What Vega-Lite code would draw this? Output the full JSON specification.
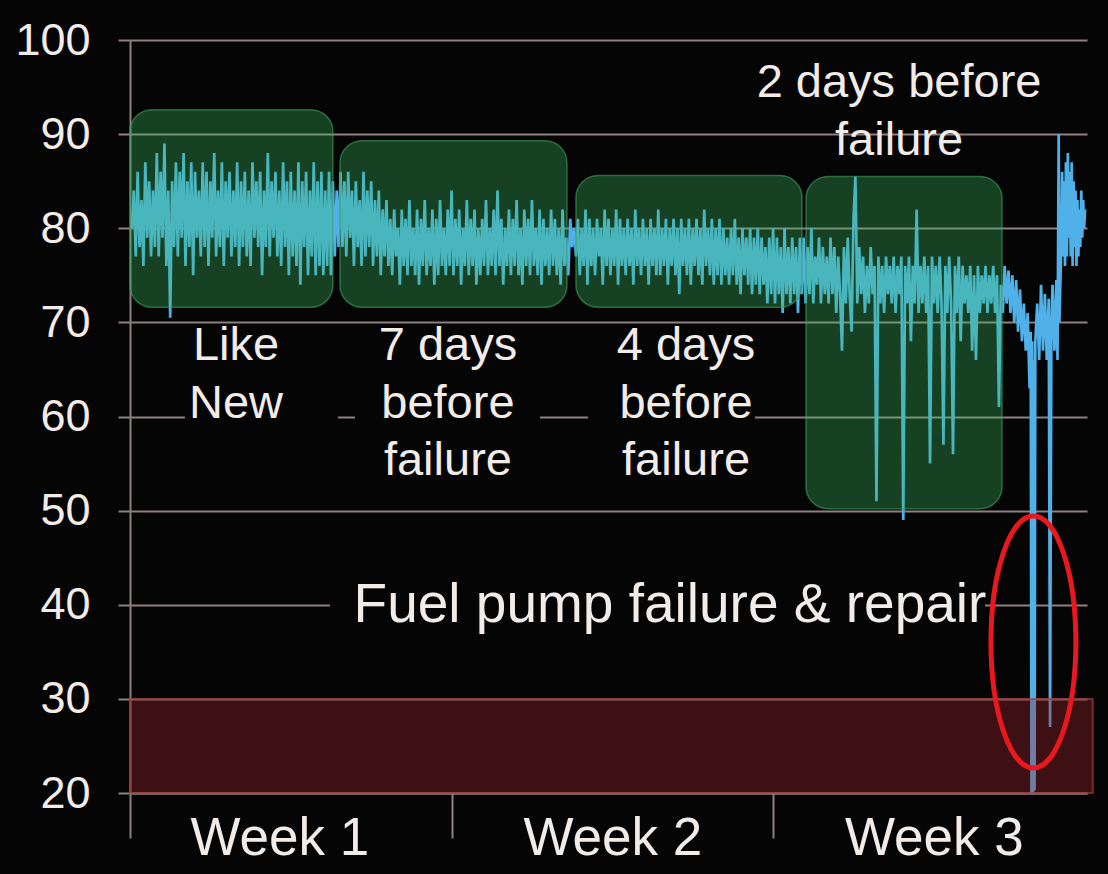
{
  "$schema": "https://vega.github.io/schema/vega-lite/v6.json",
  "width": 957,
  "height": 753,
  "autosize": {"type": "none"},
  "padding": {"left": 130, "top": 40, "right": 21, "bottom": 81},
  "background": "#050505",
  "config": {"view": {"stroke": null}, "font": "Liberation Sans"},
  "datasets": {
    "series": [
      {"h":1,"v":80},{"h":2,"v":84},{"h":3,"v":77},{"h":4,"v":86},{"h":5,"v":78},{"h":6,"v":83},{"h":7,"v":76},{"h":8,"v":87},{"h":9,"v":79},{"h":10,"v":85},
      {"h":11,"v":77},{"h":12,"v":84},{"h":13,"v":78},{"h":14,"v":88},{"h":15,"v":77},{"h":16,"v":86},{"h":17,"v":79},{"h":18,"v":89},{"h":19,"v":76},{"h":20,"v":84},
      {"h":21,"v":70.5},{"h":22,"v":85},{"h":23,"v":78},{"h":24,"v":87},{"h":25,"v":77},{"h":26,"v":86},{"h":27,"v":79},{"h":28,"v":88},{"h":29,"v":76},{"h":30,"v":85},
      {"h":31,"v":78},{"h":32,"v":87},{"h":33,"v":75},{"h":34,"v":86},{"h":35,"v":79},{"h":36,"v":84},{"h":37,"v":77},{"h":38,"v":87},{"h":39,"v":78},{"h":40,"v":86},
      {"h":41,"v":76},{"h":42,"v":85},{"h":43,"v":79},{"h":44,"v":88},{"h":45,"v":77},{"h":46,"v":84},{"h":47,"v":78},{"h":48,"v":87},{"h":49,"v":76},{"h":50,"v":85},
      {"h":51,"v":79},{"h":52,"v":86},{"h":53,"v":77},{"h":54,"v":84},{"h":55,"v":78},{"h":56,"v":87},{"h":57,"v":76},{"h":58,"v":85},{"h":59,"v":78},{"h":60,"v":86},
      {"h":61,"v":77},{"h":62,"v":84},{"h":63,"v":76},{"h":64,"v":87},{"h":65,"v":79},{"h":66,"v":85},{"h":67,"v":78},{"h":68,"v":86},{"h":69,"v":75},{"h":70,"v":84},
      {"h":71,"v":78},{"h":72,"v":88},{"h":73,"v":77},{"h":74,"v":85},{"h":75,"v":79},{"h":76,"v":86},{"h":77,"v":77},{"h":78,"v":84},{"h":79,"v":76},{"h":80,"v":87},
      {"h":81,"v":78},{"h":82,"v":85},{"h":83,"v":75},{"h":84,"v":86},{"h":85,"v":77},{"h":86,"v":84},{"h":87,"v":76},{"h":88,"v":87},{"h":89,"v":74},{"h":90,"v":85},
      {"h":91,"v":78},{"h":92,"v":86},{"h":93,"v":75},{"h":94,"v":84},{"h":95,"v":77},{"h":96,"v":87},{"h":97,"v":75},{"h":98,"v":85},{"h":99,"v":76},{"h":100,"v":86},
      {"h":101,"v":75},{"h":102,"v":84},{"h":103,"v":76},{"h":104,"v":86},{"h":105,"v":75},{"h":106,"v":85},{"h":107,"v":77},{"h":108,"v":84},{"h":109,"v":78},{"h":110,"v":86},
      {"h":111,"v":78},{"h":112,"v":85},{"h":113,"v":77},{"h":114,"v":86},{"h":115,"v":79},{"h":116,"v":84},{"h":117,"v":76},{"h":118,"v":85},{"h":119,"v":78},{"h":120,"v":83},
      {"h":121,"v":76},{"h":122,"v":86},{"h":123,"v":77},{"h":124,"v":84},{"h":125,"v":78},{"h":126,"v":85},{"h":127,"v":76},{"h":128,"v":83},{"h":129,"v":77},{"h":130,"v":84},
      {"h":131,"v":75},{"h":132,"v":82},{"h":133,"v":77},{"h":134,"v":83},{"h":135,"v":76},{"h":136,"v":81},{"h":137,"v":75},{"h":138,"v":82},{"h":139,"v":77},{"h":140,"v":80},
      {"h":141,"v":74},{"h":142,"v":82},{"h":143,"v":76},{"h":144,"v":81},{"h":145,"v":75},{"h":146,"v":83},{"h":147,"v":76},{"h":148,"v":80},{"h":149,"v":75},{"h":150,"v":82},
      {"h":151,"v":74},{"h":152,"v":81},{"h":153,"v":76},{"h":154,"v":83},{"h":155,"v":75},{"h":156,"v":80},{"h":157,"v":76},{"h":158,"v":82},{"h":159,"v":74},{"h":160,"v":81},
      {"h":161,"v":75},{"h":162,"v":83},{"h":163,"v":76},{"h":164,"v":80},{"h":165,"v":75},{"h":166,"v":82},{"h":167,"v":76},{"h":168,"v":84},{"h":169,"v":75},{"h":170,"v":81},
      {"h":171,"v":76},{"h":172,"v":82},{"h":173,"v":74},{"h":174,"v":80},{"h":175,"v":76},{"h":176,"v":83},{"h":177,"v":75},{"h":178,"v":81},{"h":179,"v":76},{"h":180,"v":82},
      {"h":181,"v":74},{"h":182,"v":80},{"h":183,"v":75},{"h":184,"v":81},{"h":185,"v":76},{"h":186,"v":83},{"h":187,"v":75},{"h":188,"v":80},{"h":189,"v":76},{"h":190,"v":82},
      {"h":191,"v":75},{"h":192,"v":84},{"h":193,"v":76},{"h":194,"v":81},{"h":195,"v":74},{"h":196,"v":80},{"h":197,"v":76},{"h":198,"v":82},{"h":199,"v":75},{"h":200,"v":81},
      {"h":201,"v":76},{"h":202,"v":83},{"h":203,"v":75},{"h":204,"v":80},{"h":205,"v":74},{"h":206,"v":82},{"h":207,"v":76},{"h":208,"v":81},{"h":209,"v":75},{"h":210,"v":83},
      {"h":211,"v":76},{"h":212,"v":80},{"h":213,"v":75},{"h":214,"v":82},{"h":215,"v":74},{"h":216,"v":81},{"h":217,"v":76},{"h":218,"v":80},{"h":219,"v":75},{"h":220,"v":82},
      {"h":221,"v":76},{"h":222,"v":81},{"h":223,"v":75},{"h":224,"v":80},{"h":225,"v":74},{"h":226,"v":82},{"h":227,"v":76},{"h":228,"v":79},{"h":229,"v":75},{"h":230,"v":81},
      {"h":231,"v":78},{"h":232,"v":80},{"h":233,"v":77},{"h":234,"v":81},{"h":235,"v":75},{"h":236,"v":80},{"h":237,"v":76},{"h":238,"v":82},{"h":239,"v":74},{"h":240,"v":81},
      {"h":241,"v":76},{"h":242,"v":80},{"h":243,"v":75},{"h":244,"v":81},{"h":245,"v":77},{"h":246,"v":80},{"h":247,"v":74},{"h":248,"v":82},{"h":249,"v":76},{"h":250,"v":81},
      {"h":251,"v":75},{"h":252,"v":80},{"h":253,"v":76},{"h":254,"v":82},{"h":255,"v":74},{"h":256,"v":81},{"h":257,"v":76},{"h":258,"v":80},{"h":259,"v":75},{"h":260,"v":81},
      {"h":261,"v":76},{"h":262,"v":80},{"h":263,"v":74},{"h":264,"v":82},{"h":265,"v":76},{"h":266,"v":80},{"h":267,"v":75},{"h":268,"v":81},{"h":269,"v":76},{"h":270,"v":80},
      {"h":271,"v":74},{"h":272,"v":81},{"h":273,"v":76},{"h":274,"v":80},{"h":275,"v":75},{"h":276,"v":82},{"h":277,"v":75},{"h":278,"v":80},{"h":279,"v":76},{"h":280,"v":81},
      {"h":281,"v":74},{"h":282,"v":80},{"h":283,"v":76},{"h":284,"v":81},{"h":285,"v":75},{"h":286,"v":80},{"h":287,"v":73},{"h":288,"v":81},{"h":289,"v":76},{"h":290,"v":80},
      {"h":291,"v":75},{"h":292,"v":81},{"h":293,"v":74},{"h":294,"v":80},{"h":295,"v":76},{"h":296,"v":81},{"h":297,"v":75},{"h":298,"v":80},{"h":299,"v":74},{"h":300,"v":82},
      {"h":301,"v":76},{"h":302,"v":80},{"h":303,"v":75},{"h":304,"v":81},{"h":305,"v":74},{"h":306,"v":80},{"h":307,"v":75},{"h":308,"v":81},{"h":309,"v":74},{"h":310,"v":80},
      {"h":311,"v":75},{"h":312,"v":79},{"h":313,"v":74},{"h":314,"v":80},{"h":315,"v":75},{"h":316,"v":81},{"h":317,"v":74},{"h":318,"v":79},{"h":319,"v":73},{"h":320,"v":80},
      {"h":321,"v":75},{"h":322,"v":79},{"h":323,"v":74},{"h":324,"v":80},{"h":325,"v":73},{"h":326,"v":79},{"h":327,"v":74},{"h":328,"v":80},{"h":329,"v":73},{"h":330,"v":79},
      {"h":331,"v":74},{"h":332,"v":78},{"h":333,"v":72},{"h":334,"v":79},{"h":335,"v":73},{"h":336,"v":80},{"h":337,"v":72},{"h":338,"v":79},{"h":339,"v":73},{"h":340,"v":78},
      {"h":341,"v":71},{"h":342,"v":80},{"h":343,"v":73},{"h":344,"v":78},{"h":345,"v":72},{"h":346,"v":79},{"h":347,"v":73},{"h":348,"v":78},{"h":349,"v":71},{"h":350,"v":79},
      {"h":351,"v":73},{"h":352,"v":79},{"h":353,"v":72},{"h":354,"v":78},{"h":355,"v":73},{"h":356,"v":80},{"h":357,"v":72},{"h":358,"v":77},{"h":359,"v":74},{"h":360,"v":79},
      {"h":361,"v":72},{"h":362,"v":78},{"h":363,"v":73},{"h":364,"v":77},{"h":365,"v":72},{"h":366,"v":79},{"h":367,"v":73},{"h":368,"v":78},{"h":369,"v":71},{"h":370,"v":77},
      {"h":371,"v":73},{"h":372,"v":67},{"h":373,"v":78},{"h":374,"v":72},{"h":375,"v":79},{"h":376,"v":73},{"h":377,"v":69},{"h":378,"v":81},{"h":379,"v":85.5},{"h":380,"v":72},
      {"h":381,"v":78},{"h":382,"v":73},{"h":383,"v":77},{"h":384,"v":71},{"h":385,"v":76},{"h":386,"v":72},{"h":387,"v":78},{"h":388,"v":73},{"h":389,"v":76},{"h":390,"v":51},
      {"h":391,"v":77},{"h":392,"v":72},{"h":393,"v":76},{"h":394,"v":71},{"h":395,"v":77},{"h":396,"v":73},{"h":397,"v":76},{"h":398,"v":72},{"h":399,"v":77},{"h":400,"v":71},
      {"h":401,"v":76},{"h":402,"v":73},{"h":403,"v":77},{"h":404,"v":49},{"h":405,"v":76},{"h":406,"v":72},{"h":407,"v":77},{"h":408,"v":68},{"h":409,"v":76},{"h":410,"v":72},
      {"h":411,"v":82},{"h":412,"v":71},{"h":413,"v":76},{"h":414,"v":72},{"h":415,"v":77},{"h":416,"v":71},{"h":417,"v":76},{"h":418,"v":55},{"h":419,"v":77},{"h":420,"v":72},
      {"h":421,"v":76},{"h":422,"v":71},{"h":423,"v":77},{"h":424,"v":72},{"h":425,"v":57},{"h":426,"v":76},{"h":427,"v":71},{"h":428,"v":77},{"h":429,"v":72},{"h":430,"v":56},
      {"h":431,"v":76},{"h":432,"v":71},{"h":433,"v":77},{"h":434,"v":68},{"h":435,"v":76},{"h":436,"v":72},{"h":437,"v":75},{"h":438,"v":71},{"h":439,"v":76},{"h":440,"v":67},
      {"h":441,"v":75},{"h":442,"v":66},{"h":443,"v":76},{"h":444,"v":71},{"h":445,"v":75},{"h":446,"v":72},{"h":447,"v":76},{"h":448,"v":71},{"h":449,"v":75},{"h":450,"v":72},
      {"h":451,"v":76},{"h":452,"v":71},{"h":453,"v":75},{"h":454,"v":61},{"h":455,"v":74},
      {"h":456,"v":71},{"h":457,"v":76},{"h":458,"v":72},{"h":459,"v":75.5},{"h":460,"v":71},{"h":461,"v":75},{"h":462,"v":70},{"h":463,"v":74.5},{"h":464,"v":69},{"h":465,"v":73.5},
      {"h":466,"v":68},{"h":467,"v":72},{"h":468,"v":67},{"h":469,"v":71},{"h":470,"v":63},{"h":470.6,"v":69},{"h":471,"v":20},{"h":471.4,"v":68},{"h":471.8,"v":20},{"h":472.2,"v":66},
      {"h":472.6,"v":20.3},{"h":473,"v":68},
      {"h":474,"v":72},{"h":475,"v":66},{"h":476,"v":74},{"h":477,"v":67},{"h":478,"v":73},{"h":479,"v":66},{"h":480,"v":72.5},{"h":480.7,"v":27},{"h":481.4,"v":70},{"h":482,"v":74},
      {"h":483,"v":67},{"h":484,"v":74.5},{"h":484.6,"v":66},{"h":485.2,"v":90},{"h":485.6,"v":70},{"h":486.5,"v":78},{"h":487,"v":86},{"h":487.5,"v":77},{"h":488,"v":85},{"h":488.5,"v":76},
      {"h":489,"v":87},{"h":489.5,"v":77},{"h":490,"v":88},{"h":490.5,"v":79},{"h":491,"v":86},{"h":491.5,"v":77},{"h":492,"v":87},{"h":492.5,"v":76},{"h":493,"v":85},{"h":493.5,"v":78},
      {"h":494,"v":84},{"h":494.5,"v":76},{"h":495,"v":83},{"h":495.5,"v":77},{"h":496,"v":82},{"h":496.5,"v":78},{"h":497,"v":84},{"h":497.5,"v":79},{"h":498,"v":83},{"h":498.5,"v":80},{"h":499,"v":82}
    ],
    "boxes": [
      {"x1": 0, "x2": 106, "y1": 92.6, "y2": 71.6},
      {"x1": 109.7, "x2": 228.3, "y1": 89.3, "y2": 71.6},
      {"x1": 233, "x2": 351.1, "y1": 85.6, "y2": 71.6},
      {"x1": 353.2, "x2": 455.6, "y1": 85.5, "y2": 50.2}
    ],
    "zone": [{"x1": 0, "x2": 503, "y1": 20, "y2": 30}],
    "masks": [
      {"x1": 28.7, "x2": 108.7, "y1": 58.6, "y2": 61.4},
      {"x1": 117.6, "x2": 214.2, "y1": 58.6, "y2": 61.4},
      {"x1": 239.3, "x2": 326.5, "y1": 58.6, "y2": 61.4},
      {"x1": 104.5, "x2": 446.7, "y1": 38.6, "y2": 41.4}
    ],
    "notes": [
      {"x": 55.4, "y": 66.0, "t": "Like\nNew"},
      {"x": 166.1, "y": 66.0, "t": "7 days\nbefore\nfailure"},
      {"x": 290.5, "y": 66.0, "t": "4 days\nbefore\nfailure"},
      {"x": 401.8, "y": 93.9, "t": "2 days before\nfailure"}
    ],
    "big": [{"x": 282.1, "y": 38.2, "t": "Fuel pump failure & repair"}],
    "ring": [{"x": 472, "y": 36.05}]
  },
  "layer": [
    {
      "data": {"name": "series"},
      "mark": {"type": "line", "color": "#50b0e8", "strokeWidth": 2.7, "strokeJoin": "bevel"},
      "encoding": {
        "x": {
          "field": "h", "type": "quantitative",
          "scale": {"domain": [0, 500], "nice": false, "zero": false},
          "axis": {
            "title": null,
            "values": [0, 78, 168, 252, 336, 420],
            "labelExpr": "datum.value == 78 ? 'Week 1' : datum.value == 252 ? 'Week 2' : datum.value == 420 ? 'Week 3' : ''",
            "grid": false,
            "tickSize": 45, "tickWidth": 2, "tickColor": "#8f8080",
            "tickOpacity": {"condition": {"test": "datum.value == 0 || datum.value == 168 || datum.value == 336", "value": 1}, "value": 0},
            "domainColor": "#8f8080", "domainWidth": 2,
            "labelFontSize": 53, "labelColor": "#f2ece8", "labelFont": "Liberation Sans",
            "labelPadding": 0, "labelBaseline": "middle",
            "labelOverlap": false, "labelFlush": false, "labelBound": false
          }
        },
        "y": {
          "field": "v", "type": "quantitative",
          "scale": {"domain": [20, 100], "nice": false, "zero": false},
          "axis": {
            "title": null,
            "values": [20, 30, 40, 50, 60, 70, 80, 90, 100],
            "grid": true, "gridColor": "#8f8080", "gridWidth": 2,
            "tickSize": 12, "tickWidth": 2, "tickColor": "#8f8080",
            "domainColor": "#8f8080", "domainWidth": 2,
            "labelFontSize": 45, "labelColor": "#f2ece8", "labelFont": "Liberation Sans",
            "labelPadding": 28, "labelOverlap": false, "labelFlush": false, "labelBound": false
          }
        }
      }
    },
    {
      "data": {"name": "boxes"},
      "mark": {"type": "rect", "fill": "#3cc064", "fillOpacity": 0.32, "stroke": "#3f9f5c", "strokeOpacity": 0.6, "strokeWidth": 1.5, "cornerRadius": 22},
      "encoding": {
        "x": {"field": "x1", "type": "quantitative"},
        "x2": {"field": "x2"},
        "y": {"field": "y1", "type": "quantitative"},
        "y2": {"field": "y2"}
      }
    },
    {
      "data": {"name": "zone"},
      "mark": {"type": "rect", "fill": "#a0282d", "fillOpacity": 0.36, "stroke": "#a23c3c", "strokeOpacity": 0.7, "strokeWidth": 2},
      "encoding": {
        "x": {"field": "x1", "type": "quantitative"},
        "x2": {"field": "x2"},
        "y": {"field": "y1", "type": "quantitative"},
        "y2": {"field": "y2"}
      }
    },
    {
      "data": {"name": "masks"},
      "mark": {"type": "rect", "fill": "#050505"},
      "encoding": {
        "x": {"field": "x1", "type": "quantitative"},
        "x2": {"field": "x2"},
        "y": {"field": "y1", "type": "quantitative"},
        "y2": {"field": "y2"}
      }
    },
    {
      "data": {"name": "notes"},
      "mark": {"type": "text", "align": "center", "baseline": "alphabetic", "lineBreak": "\n", "lineHeight": 57.5, "fontSize": 47, "font": "Liberation Sans", "color": "#f2ece8"},
      "encoding": {
        "x": {"field": "x", "type": "quantitative"},
        "y": {"field": "y", "type": "quantitative"},
        "text": {"field": "t"}
      }
    },
    {
      "data": {"name": "big"},
      "mark": {"type": "text", "align": "center", "baseline": "alphabetic", "fontSize": 55, "font": "Liberation Sans", "color": "#f2ece8"},
      "encoding": {
        "x": {"field": "x", "type": "quantitative"},
        "y": {"field": "y", "type": "quantitative"},
        "text": {"field": "t"}
      }
    },
    {
      "data": {"name": "ring"},
      "mark": {"type": "point", "shape": "M -0.337 0 A 0.337 1 0 1 1 0.337 0 A 0.337 1 0 1 1 -0.337 0 Z", "size": 63504, "filled": false, "stroke": "#e8191e", "strokeWidth": 5, "opacity": 1},
      "encoding": {
        "x": {"field": "x", "type": "quantitative"},
        "y": {"field": "y", "type": "quantitative"}
      }
    }
  ]
}
